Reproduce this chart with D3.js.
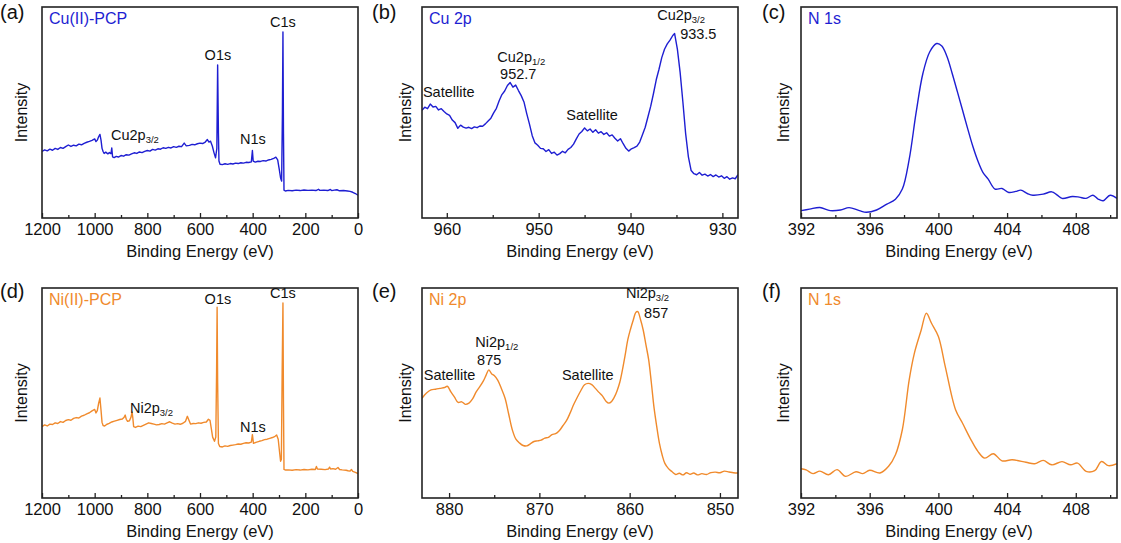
<!DOCTYPE html>
<html>
<head>
<meta charset="utf-8">
<script src="https://cdnjs.cloudflare.com/ajax/libs/d3/7.8.5/d3.min.js"></script>
<style>
  body { margin: 0; background: #fff; }
  svg text { font-family: "Liberation Sans", Arial, sans-serif; fill: #111; }
</style>
</head>
<body>
<svg id="chart" width="1121" height="543"></svg>
<script>
const BLUE = '#1e1ed2';
const ORANGE = '#f08a2c';

// ---- data: [binding energy (eV), intensity (a.u.)] ----
const cuSurvey = [[1200,31.5],[1190,32.3],[1180,31.8],[1170,32.6],[1160,32.1],[1150,33.0],[1140,32.5],[1130,33.4],[1120,33.0],[1110,33.8],[1100,34.6],[1090,33.9],[1080,34.5],[1070,34.2],[1060,35.0],[1050,34.7],[1040,35.4],[1030,35.9],[1020,36.3],[1010,36.8],[1000,37.5],[995,36.2],[990,36.9],[985,38.5],[980,39.6],[976,37.0],[972,33.0],[968,31.5],[964,30.6],[958,31.2],[950,30.4],[944,31.0],[938,30.5],[935,33.2],[932,29.0],[926,28.6],[918,29.2],[910,28.9],[900,29.6],[890,29.3],[880,30.0],[870,29.8],[860,30.4],[850,30.9],[840,30.6],[830,31.3],[820,31.0],[810,31.6],[800,32.0],[790,31.7],[780,32.5],[770,32.2],[760,32.8],[750,32.6],[740,33.3],[730,33.0],[720,33.5],[710,33.2],[700,33.8],[690,33.5],[680,34.0],[670,33.8],[660,35.5],[652,34.2],[640,34.4],[630,34.9],[620,34.7],[610,35.2],[600,35.5],[590,35.3],[580,36.0],[572,37.2],[566,36.0],[560,36.4],[553,34.0],[547,31.0],[541,28.5],[536,33.0],[533,72.5],[530,40.0],[528,27.0],[524,25.5],[515,25.3],[505,25.7],[495,25.4],[485,25.8],[475,25.6],[465,26.0],[455,25.8],[445,26.2],[435,26.0],[425,26.4],[415,26.3],[405,26.6],[401,32.0],[398,27.0],[390,26.5],[380,26.9],[370,26.8],[360,27.2],[350,27.0],[340,27.5],[330,27.8],[320,28.3],[312,28.8],[305,27.5],[299,23.0],[294,19.0],[290,17.5],[287,50.0],[285,88.2],[283,40.0],[281,13.2],[276,12.8],[265,13.1],[250,12.9],[235,13.2],[220,13.0],[205,13.3],[190,13.1],[175,13.2],[160,13.0],[150,13.6],[145,13.1],[130,13.2],[115,13.0],[105,13.5],[100,13.0],[90,13.2],[80,13.4],[70,12.9],[55,13.0],[40,12.8],[30,12.6],[20,12.2],[10,11.6],[0,10.8]];

const cu2p = [[962.7,51.0],[962.4,52.5],[962.1,51.8],[961.8,54.0],[961.5,52.6],[961.2,52.9],[960.9,51.2],[960.6,51.8],[960.3,50.5],[960.0,49.3],[959.7,48.6],[959.4,46.4],[959.1,45.2],[958.8,42.5],[958.5,44.0],[958.2,43.1],[957.9,42.6],[957.6,43.0],[957.3,42.4],[957.0,43.2],[956.7,42.8],[956.4,43.6],[956.1,43.5],[955.8,44.6],[955.5,46.0],[955.2,47.3],[954.9,49.8],[954.6,52.0],[954.3,55.6],[954.0,58.5],[953.7,60.2],[953.4,62.8],[953.1,64.2],[952.8,62.0],[952.5,63.0],[952.2,60.4],[951.9,58.0],[951.6,55.0],[951.3,49.5],[951.0,44.5],[950.7,39.0],[950.4,35.6],[950.1,34.5],[949.8,33.0],[949.5,32.8],[949.2,31.5],[948.9,32.4],[948.6,30.6],[948.3,31.2],[948.0,29.8],[947.7,30.5],[947.4,31.6],[947.1,30.9],[946.8,32.5],[946.5,33.4],[946.2,35.0],[945.9,37.5],[945.6,39.8],[945.3,41.0],[945.0,42.7],[944.7,41.3],[944.4,42.2],[944.1,40.6],[943.8,41.8],[943.5,40.2],[943.2,40.9],[942.9,39.6],[942.6,40.4],[942.3,38.8],[942.0,39.4],[941.7,37.8],[941.4,36.5],[941.1,37.6],[940.8,35.2],[940.5,33.0],[940.2,31.7],[939.9,32.8],[939.6,33.4],[939.3,34.1],[939.0,36.0],[938.7,39.5],[938.4,43.0],[938.1,48.0],[937.8,53.0],[937.5,59.0],[937.2,65.5],[936.9,70.5],[936.6,76.0],[936.3,80.0],[936.0,82.5],[935.7,84.3],[935.4,86.5],[935.2,87.4],[934.9,80.0],[934.6,69.0],[934.3,55.0],[934.0,40.0],[933.7,29.0],[933.4,22.5],[933.1,21.0],[932.8,20.5],[932.5,21.6],[932.2,20.3],[931.9,20.8],[931.6,19.9],[931.3,20.6],[931.0,19.6],[930.7,20.4],[930.4,19.4],[930.1,20.0],[929.8,18.8],[929.5,19.6],[929.2,18.4],[928.9,19.0],[928.6,18.6],[928.3,20.5]];

const cuN1s = [[392,3.5],[392.5,4.2],[393.1,5.0],[393.7,3.5],[394.3,3.8],[394.8,4.9],[395.4,3.5],[395.8,2.7],[396.4,3.8],[397.0,6.6],[397.5,8.9],[397.9,13.7],[398.3,27.8],[398.7,49.8],[399.1,68.6],[399.5,78.8],[399.9,82.7],[400.2,81.5],[400.5,76.5],[400.8,68.6],[401.1,60.0],[401.4,51.3],[401.7,42.5],[402.0,34.1],[402.3,27.0],[402.6,21.5],[402.9,18.4],[403.3,13.7],[403.7,14.0],[404.1,12.1],[404.5,12.6],[404.8,13.2],[405.2,11.5],[405.5,10.8],[406.1,11.3],[406.6,12.4],[406.9,11.0],[407.2,9.3],[407.8,10.2],[408.2,9.9],[408.6,9.3],[409.0,10.8],[409.3,9.0],[409.6,8.2],[410.0,10.8],[410.4,9.3]];

const niSurvey = [[1200,34.0],[1190,34.8],[1180,34.3],[1170,35.2],[1160,35.0],[1150,35.8],[1140,35.5],[1130,36.4],[1120,36.0],[1110,36.9],[1100,37.3],[1090,37.0],[1080,37.9],[1070,38.3],[1060,38.1],[1050,39.0],[1040,39.4],[1030,40.1],[1020,40.6],[1010,41.5],[1000,42.2],[995,40.5],[990,41.6],[985,45.0],[980,47.6],[976,42.0],[972,36.0],[968,34.5],[962,34.3],[955,35.0],[945,35.5],[935,36.2],[925,36.6],[915,37.0],[905,37.4],[895,37.6],[888,38.5],[884,39.5],[880,37.5],[875,36.5],[868,36.8],[862,38.5],[858,41.0],[855,38.0],[852,34.0],[845,33.6],[835,34.2],[825,34.0],[815,34.6],[805,35.2],[795,35.8],[785,35.5],[775,35.2],[765,34.8],[755,35.0],[745,35.4],[735,35.2],[725,35.8],[715,36.3],[705,35.7],[695,35.2],[685,35.4],[675,35.1],[665,35.6],[655,36.5],[648,38.9],[642,37.0],[636,35.2],[626,35.5],[616,35.4],[606,35.8],[596,35.6],[586,36.0],[576,36.2],[568,37.5],[562,37.0],[557,33.0],[552,29.0],[545,27.0],[540,29.0],[537,60.0],[535,90.8],[533,55.0],[530,26.0],[525,24.5],[515,24.3],[505,24.8],[495,24.6],[485,25.0],[475,25.2],[465,25.4],[455,25.7],[445,25.6],[435,26.0],[425,26.3],[415,26.2],[405,26.6],[401,30.2],[397,26.0],[388,26.5],[375,27.0],[365,27.3],[355,27.8],[345,28.0],[335,28.4],[325,28.8],[315,29.4],[309,30.0],[303,28.0],[298,22.0],[294,17.5],[291,18.5],[288,60.0],[285,92.9],[283,45.0],[281,13.6],[275,13.3],[265,13.4],[250,13.2],[235,13.5],[220,13.3],[205,13.6],[190,13.4],[175,13.7],[162,13.6],[158,15.0],[154,13.8],[140,13.7],[125,13.5],[112,13.8],[108,14.7],[104,13.8],[95,14.0],[85,13.7],[76,14.5],[70,13.6],[60,13.4],[45,13.2],[38,13.0],[30,12.8],[25,13.6],[20,12.7],[10,12.2],[0,11.6]];

const ni2p = [[883,47.5],[882.5,50.0],[882,51.5],[881.5,51.8],[881,52.2],[880.5,52.6],[880.2,53.2],[879.8,50.5],[879.4,48.0],[879,45.5],[878.6,45.8],[878.2,44.6],[877.8,45.2],[877.4,47.2],[877,50.5],[876.6,53.0],[876.2,55.8],[875.9,58.5],[875.6,61.0],[875.3,59.2],[875,58.3],[874.6,56.0],[874.2,52.0],[873.8,47.5],[873.4,40.0],[873,32.5],[872.6,28.0],[872.2,26.2],[871.8,25.0],[871.4,24.8],[871,25.8],[870.6,26.9],[870.2,27.2],[869.8,27.6],[869.4,28.5],[869,28.9],[868.6,30.2],[868.2,30.6],[867.8,32.0],[867.4,34.4],[867,36.8],[866.6,40.4],[866.2,44.5],[865.8,48.0],[865.4,51.2],[865,53.9],[864.6,54.6],[864.2,54.0],[863.8,52.2],[863.4,50.3],[863,48.5],[862.6,46.0],[862.3,45.2],[862,46.0],[861.7,48.0],[861.4,51.0],[861.1,55.0],[860.8,61.0],[860.5,68.0],[860.2,75.5],[859.9,80.5],[859.6,84.8],[859.3,88.5],[859.1,88.7],[858.8,85.0],[858.5,80.0],[858.2,73.0],[857.9,66.0],[857.6,55.0],[857.3,43.0],[857,34.0],[856.7,26.0],[856.4,20.5],[856.1,16.5],[855.7,14.0],[855.3,12.5],[854.9,11.2],[854.5,11.8],[854.1,11.0],[853.7,12.0],[853.3,11.3],[852.9,11.9],[852.5,11.0],[852,11.6],[851.5,11.2],[851,12.1],[850.5,12.3],[850,12.0],[849.5,12.8],[849,12.4],[848.5,12.0],[848,11.9]];

const niN1s = [[392,13.9],[392.3,13.4],[392.7,11.6],[393.1,12.8],[393.6,11.1],[394.1,13.5],[394.6,10.3],[395.2,12.5],[395.6,11.6],[396.0,13.2],[396.6,11.9],[397.1,15.1],[397.5,20.6],[397.9,32.5],[398.3,56.3],[398.6,68.9],[399.0,80.0],[399.3,88.0],[399.6,83.2],[400.0,76.9],[400.4,62.6],[401.0,42.0],[401.4,35.7],[401.9,27.7],[402.3,22.2],[402.7,19.0],[403.2,21.1],[403.7,17.7],[404.3,18.2],[405.1,17.0],[405.6,16.3],[406.1,17.9],[406.6,15.8],[407.2,17.3],[407.7,15.8],[408.1,16.6],[408.6,12.7],[409.1,13.0],[409.5,17.4],[409.9,15.4],[410.4,16.3]];

// ---- axes: domains and tick labels ----
const surveyDomain = [1200, 0];
const surveyTicks = [1200, 1000, 800, 600, 400, 200, 0];
const surveyMinor = [1100, 900, 700, 500, 300, 100];
const cuDomain = [962.7, 928.3];
const cuTicks = [960, 950, 940, 930];
const cuMinor = [955, 945, 935];
const niDomain = [883, 848];
const niTicks = [880, 870, 860, 850];
const niMinor = [875, 865, 855];
const nDomain = [392, 410.4];
const nTicks = [392, 396, 400, 404, 408];
const nMinor = [394, 398, 402, 406, 410];

// ---- peak annotations: [text, subscript, energy, intensity, anchor] ----
const annA = [['C1s', '', 285, 90.5, 'middle'], ['O1s', '', 532, 74.9, 'middle'], ['N1s', '', 399, 35, 'middle'], ['Cu2p', '3/2', 938, 37, 'start']];
const annB = [['Cu2p', '3/2', 937.1, 93.8, 'start'], ['933.5', '', 934.6, 85.0, 'start'], ['Cu2p', '1/2', 954.5, 73.9, 'start'], ['952.7', '', 954.2, 66.0, 'start'], ['Satellite', '', 962.6, 57.3, 'start'], ['Satellite', '', 947.0, 46.4, 'start']];
const annD = [['O1s', '', 532, 92.4, 'middle'], ['C1s', '', 285, 95.2, 'middle'], ['N1s', '', 399, 31.4, 'middle'], ['Ni2p', '3/2', 866, 40.5, 'start']];
const annE = [['Ni2p', '3/2', 860.4, 95.2, 'start'], ['857', '', 858.4, 85.7, 'start'], ['Ni2p', '1/2', 877.1, 71.9, 'start'], ['875', '', 876.9, 63.3, 'start'], ['Satellite', '', 882.8, 56.2, 'start'], ['Satellite', '', 867.5, 56.2, 'start']];

const COLS = [{ left: 42, right: 358, lx: 0, yl: 21 }, { left: 422, right: 738, lx: 372, yl: 17 }, { left: 801, right: 1117, lx: 762, yl: 18 }];
const ROWS = [{ top: 7, bottom: 218, ly: 19 }, { top: 288, bottom: 498, ly: 298 }];

const panels = [
    { id: '(a)', title: 'Cu(II)-PCP', data: cuSurvey, color: BLUE, domain: surveyDomain, ticks: surveyTicks, minor: surveyMinor, ann: annA, col: 0, row: 0, curve: d3.curveLinear },
    { id: '(b)', title: 'Cu 2p', data: cu2p, color: BLUE, domain: cuDomain, ticks: cuTicks, minor: cuMinor, ann: annB, col: 1, row: 0, curve: d3.curveLinear },
    { id: '(c)', title: 'N 1s', data: cuN1s, color: BLUE, domain: nDomain, ticks: nTicks, minor: nMinor, ann: [], col: 2, row: 0, curve: d3.curveCatmullRom },
    { id: '(d)', title: 'Ni(II)-PCP', data: niSurvey, color: ORANGE, domain: surveyDomain, ticks: surveyTicks, minor: surveyMinor, ann: annD, col: 0, row: 1, curve: d3.curveLinear },
    { id: '(e)', title: 'Ni 2p', data: ni2p, color: ORANGE, domain: niDomain, ticks: niTicks, minor: niMinor, ann: annE, col: 1, row: 1, curve: d3.curveCatmullRom },
    { id: '(f)', title: 'N 1s', data: niN1s, color: ORANGE, domain: nDomain, ticks: nTicks, minor: nMinor, ann: [], col: 2, row: 1, curve: d3.curveCatmullRom }
];

const $svg = d3.select('#chart');

panels.forEach((p, i) => {
    const c = COLS[p.col], r = ROWS[p.row];
    const x = d3.scaleLinear().domain(p.domain).range([c.left, c.right]);
    const y = d3.scaleLinear().domain([0, 100]).range([r.bottom, r.top]);
    const g = $svg.append('g').attr('class', 'panel');

    g.append('clipPath').attr('id', 'clip' + i)
        .append('rect').attr('x', c.left).attr('y', r.top)
        .attr('width', c.right - c.left).attr('height', r.bottom - r.top);

    // spectrum
    g.append('path')
        .datum(p.data)
        .attr('clip-path', `url(#clip${i})`)
        .attr('fill', 'none')
        .attr('stroke', p.color)
        .attr('stroke-width', 1.4)
        .attr('stroke-linejoin', 'round')
        .attr('d', d3.line().x(d => x(d[0])).y(d => y(d[1])).curve(p.curve));

    // bottom axis, ticks pointing inward
    const axis = g.append('g').attr('transform', `translate(0,${r.bottom})`)
        .call(d3.axisBottom(x).tickValues(p.ticks).tickSize(-5).tickFormat(d3.format('d')));
    axis.select('.domain').remove();
    axis.selectAll('.tick line').attr('stroke', '#222').attr('stroke-width', 1.3);
    axis.selectAll('.tick text').attr('font-size', '16.5px').attr('fill', '#111')
        .attr('dy', null).attr('y', 17);

    const minor = g.append('g').attr('transform', `translate(0,${r.bottom})`)
        .call(d3.axisBottom(x).tickValues(p.minor).tickSize(-3).tickFormat(''));
    minor.select('.domain').remove();
    minor.selectAll('.tick line').attr('stroke', '#222').attr('stroke-width', 1.3);

    // frame
    g.append('rect')
        .attr('x', c.left).attr('y', r.top)
        .attr('width', c.right - c.left).attr('height', r.bottom - r.top)
        .attr('fill', 'none').attr('stroke', '#222').attr('stroke-width', 1.6);

    // axis titles
    g.append('text')
        .attr('x', (c.left + c.right) / 2).attr('y', r.bottom + 39)
        .attr('text-anchor', 'middle').attr('font-size', '16.5px')
        .text('Binding Energy (eV)');
    g.append('text')
        .attr('transform', `translate(${c.left - c.yl},${(r.top + r.bottom) / 2}) rotate(-90)`)
        .attr('dy', '0.35em')
        .attr('text-anchor', 'middle').attr('font-size', '16px')
        .text('Intensity');

    // panel letter and title
    g.append('text').attr('x', c.lx).attr('y', r.ly)
        .attr('font-size', '20px').text(p.id);
    g.append('text').attr('x', c.left + 7).attr('y', r.top + 17)
        .attr('font-size', '16px').style('fill', p.color).text(p.title);

    // peak labels
    p.ann.forEach(a => {
        const t = g.append('text')
            .attr('x', x(a[2])).attr('y', y(a[3]))
            .attr('text-anchor', a[4]).attr('font-size', '14.5px')
            .text(a[0]);
        if (a[1]) {
            t.append('tspan').attr('font-size', '9.5px').attr('dy', 3).text(a[1]);
        }
    });
});
</script>
</body>
</html>
